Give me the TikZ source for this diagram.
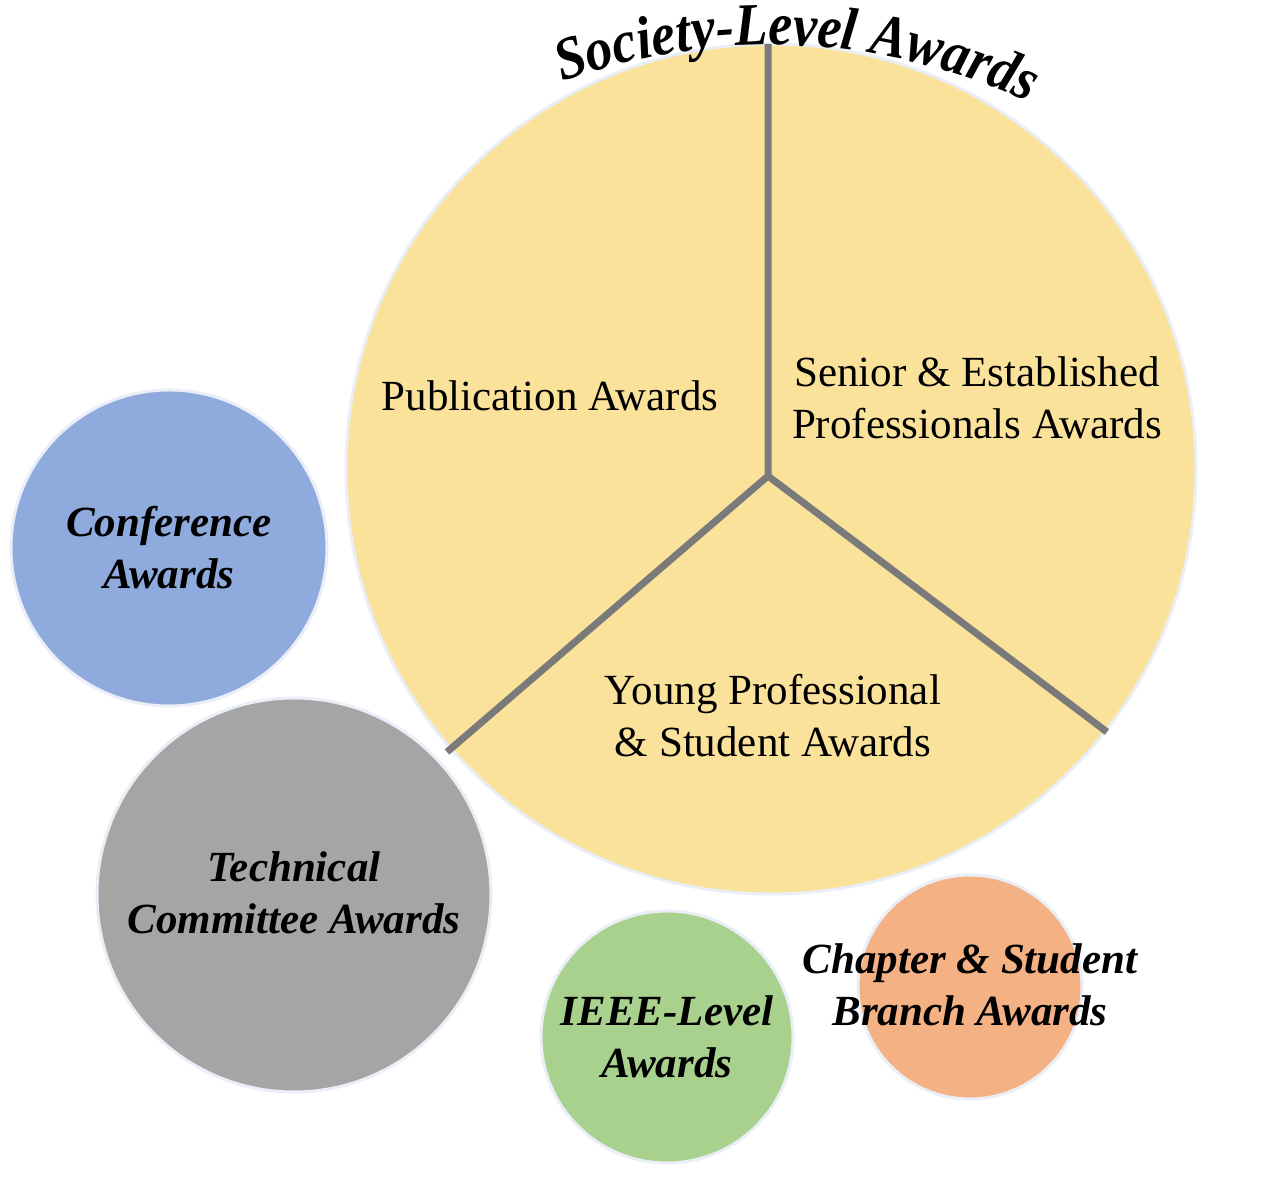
\documentclass[tikz,border=0pt]{standalone}
\usepackage{fontspec}
\setmainfont{Liberation Serif}
\usetikzlibrary{decorations.text}
\definecolor{yel}{HTML}{FAE29B}
\definecolor{blu}{HTML}{8FAADC}
\definecolor{gry}{HTML}{A5A5A5}
\definecolor{grn}{HTML}{A9D18E}
\definecolor{org}{HTML}{F4B183}
\definecolor{divc}{HTML}{7A7A7A}
\definecolor{glowc}{HTML}{E9EEF7}
\newfontfamily\titlefam[FakeStretch=0.9]{Liberation Serif}
\begin{document}
\begin{tikzpicture}[x=1pt,y=1pt,
  disc/.style={circle, inner sep=0pt, draw=glowc, line width=3pt},
  bublabel/.style={align=center, inner sep=0pt, font=\bfseries\itshape\fontsize{43}{52}\selectfont},
  plainlabel/.style={align=center, inner sep=0pt, font=\fontsize{43}{52}\selectfont},
  divider/.style={draw=divc, line width=7pt}]
\useasboundingbox (0,0) rectangle (1263,1180);
% big society circle
\node[disc, fill=yel, minimum size=850pt] (big) at (771,711) {};
\coordinate (j) at (768,704);
\coordinate (top) at (768,1136);
\coordinate (ll) at (447,428);
\coordinate (lr) at (1107,448);
\draw[divider] (top) -- (j) -- (ll);
\draw[divider] (j) -- (lr);
\node[plainlabel] (pub) at (550,784) {Publication Awards};
\node[plainlabel] (senior) at (977,782) {Senior \& Established\\Professionals Awards};
\node[plainlabel] (young) at (773,464) {Young Professional\\\& Student Awards};
% title along arc
\path[decorate, decoration={text along path, text align=center,
  text={|\titlefam\bfseries\itshape\fontsize{60}{66}\selectfont|Society-Level Awards}}]
  (771,531) ++(110.5:604) arc[start angle=110.5, end angle=64.5, radius=604];
% satellite circles
\node[disc, fill=blu, minimum size=316pt] (conf) at (169,632) {};
\node[disc, fill=gry, minimum size=394pt] (tech) at (294,285) {};
\node[disc, fill=grn, minimum size=252pt] (ieee) at (667,143) {};
\node[disc, fill=org, minimum size=224pt] (chap) at (970,193) {};
\node[bublabel] (conflabel) at (conf.center) {Conference\\Awards};
\node[bublabel] (techlabel) at ([yshift=2pt]tech.center) {Technical\\Committee Awards};
\node[bublabel] (ieeelabel) at (ieee.center) {IEEE-Level\\Awards};
\node[bublabel] (chaplabel) at ([yshift=2pt]chap.center) {Chapter \& Student\\Branch Awards};
\end{tikzpicture}
\end{document}
